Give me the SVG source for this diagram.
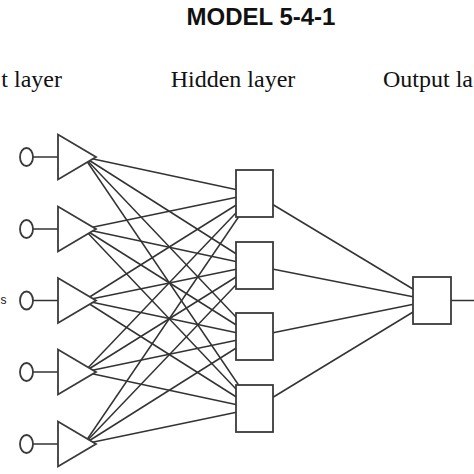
<svg xmlns="http://www.w3.org/2000/svg" width="474" height="474" viewBox="0 0 474 474">
<style>
.title{font-family:"Liberation Sans",Arial,sans-serif;font-weight:bold;font-size:24px;fill:#111}
.lbl{font-family:"Liberation Serif","Times New Roman",serif;font-size:24px;fill:#111}
.small{font-family:"Liberation Sans",Arial,sans-serif;font-size:12px;fill:#111}
.shape{fill:#fff;stroke:#3a3a3a;stroke-width:1.8}
.conn line{stroke:#333;stroke-width:1.5}
</style>
<rect width="474" height="474" fill="#fff"/>
<text class="title" x="261" y="25" text-anchor="middle">MODEL 5-4-1</text>
<text class="lbl" x="62" y="87" text-anchor="end">t layer</text>
<text class="lbl" x="233" y="87" text-anchor="middle">Hidden layer</text>
<text class="lbl" x="383" y="87">Output la</text>
<text class="small" x="0.5" y="304">s</text>
<g id="connectors" class="conn">
<line x1="33" y1="157" x2="58" y2="157"/>
<line x1="33" y1="229" x2="58" y2="229"/>
<line x1="33" y1="300.5" x2="58" y2="300.5"/>
<line x1="33" y1="372" x2="58" y2="372"/>
<line x1="33" y1="444" x2="58" y2="444"/>
<line x1="84" y1="157" x2="254.5" y2="193.5"/>
<line x1="84" y1="157" x2="254.5" y2="265.5"/>
<line x1="84" y1="157" x2="254.5" y2="336.5"/>
<line x1="84" y1="157" x2="254.5" y2="408.5"/>
<line x1="84" y1="229" x2="254.5" y2="193.5"/>
<line x1="84" y1="229" x2="254.5" y2="265.5"/>
<line x1="84" y1="229" x2="254.5" y2="336.5"/>
<line x1="84" y1="229" x2="254.5" y2="408.5"/>
<line x1="84" y1="300.5" x2="254.5" y2="193.5"/>
<line x1="84" y1="300.5" x2="254.5" y2="265.5"/>
<line x1="84" y1="300.5" x2="254.5" y2="336.5"/>
<line x1="84" y1="300.5" x2="254.5" y2="408.5"/>
<line x1="84" y1="372" x2="254.5" y2="193.5"/>
<line x1="84" y1="372" x2="254.5" y2="265.5"/>
<line x1="84" y1="372" x2="254.5" y2="336.5"/>
<line x1="84" y1="372" x2="254.5" y2="408.5"/>
<line x1="84" y1="444" x2="254.5" y2="193.5"/>
<line x1="84" y1="444" x2="254.5" y2="265.5"/>
<line x1="84" y1="444" x2="254.5" y2="336.5"/>
<line x1="84" y1="444" x2="254.5" y2="408.5"/>
<line x1="254.5" y1="193.5" x2="432" y2="300.5"/>
<line x1="254.5" y1="265.5" x2="432" y2="300.5"/>
<line x1="254.5" y1="336.5" x2="432" y2="300.5"/>
<line x1="254.5" y1="408.5" x2="432" y2="300.5"/>
<line x1="451" y1="300.5" x2="474" y2="300.5"/>
</g>
<g id="in1"><ellipse class="shape" cx="26.5" cy="157" rx="6.5" ry="9"/><polygon class="shape" points="58,134.5 58,179.5 96,157"/></g>
<g id="in2"><ellipse class="shape" cx="26.5" cy="229" rx="6.5" ry="9"/><polygon class="shape" points="58,206.5 58,251.5 96,229"/></g>
<g id="in3"><ellipse class="shape" cx="26.5" cy="300.5" rx="6.5" ry="9"/><polygon class="shape" points="58,278 58,323 96,300.5"/></g>
<g id="in4"><ellipse class="shape" cx="26.5" cy="372" rx="6.5" ry="9"/><polygon class="shape" points="58,349.5 58,394.5 96,372"/></g>
<g id="in5"><ellipse class="shape" cx="26.5" cy="444" rx="6.5" ry="9"/><polygon class="shape" points="58,421.5 58,466.5 96,444"/></g>
<g id="h1"><rect class="shape" x="236" y="170" width="37" height="47"/></g>
<g id="h2"><rect class="shape" x="236" y="242" width="37" height="47"/></g>
<g id="h3"><rect class="shape" x="236" y="313" width="37" height="47"/></g>
<g id="h4"><rect class="shape" x="236" y="385" width="37" height="47"/></g>
<g id="out"><rect class="shape" x="413" y="277" width="38" height="47"/></g>
</svg>
